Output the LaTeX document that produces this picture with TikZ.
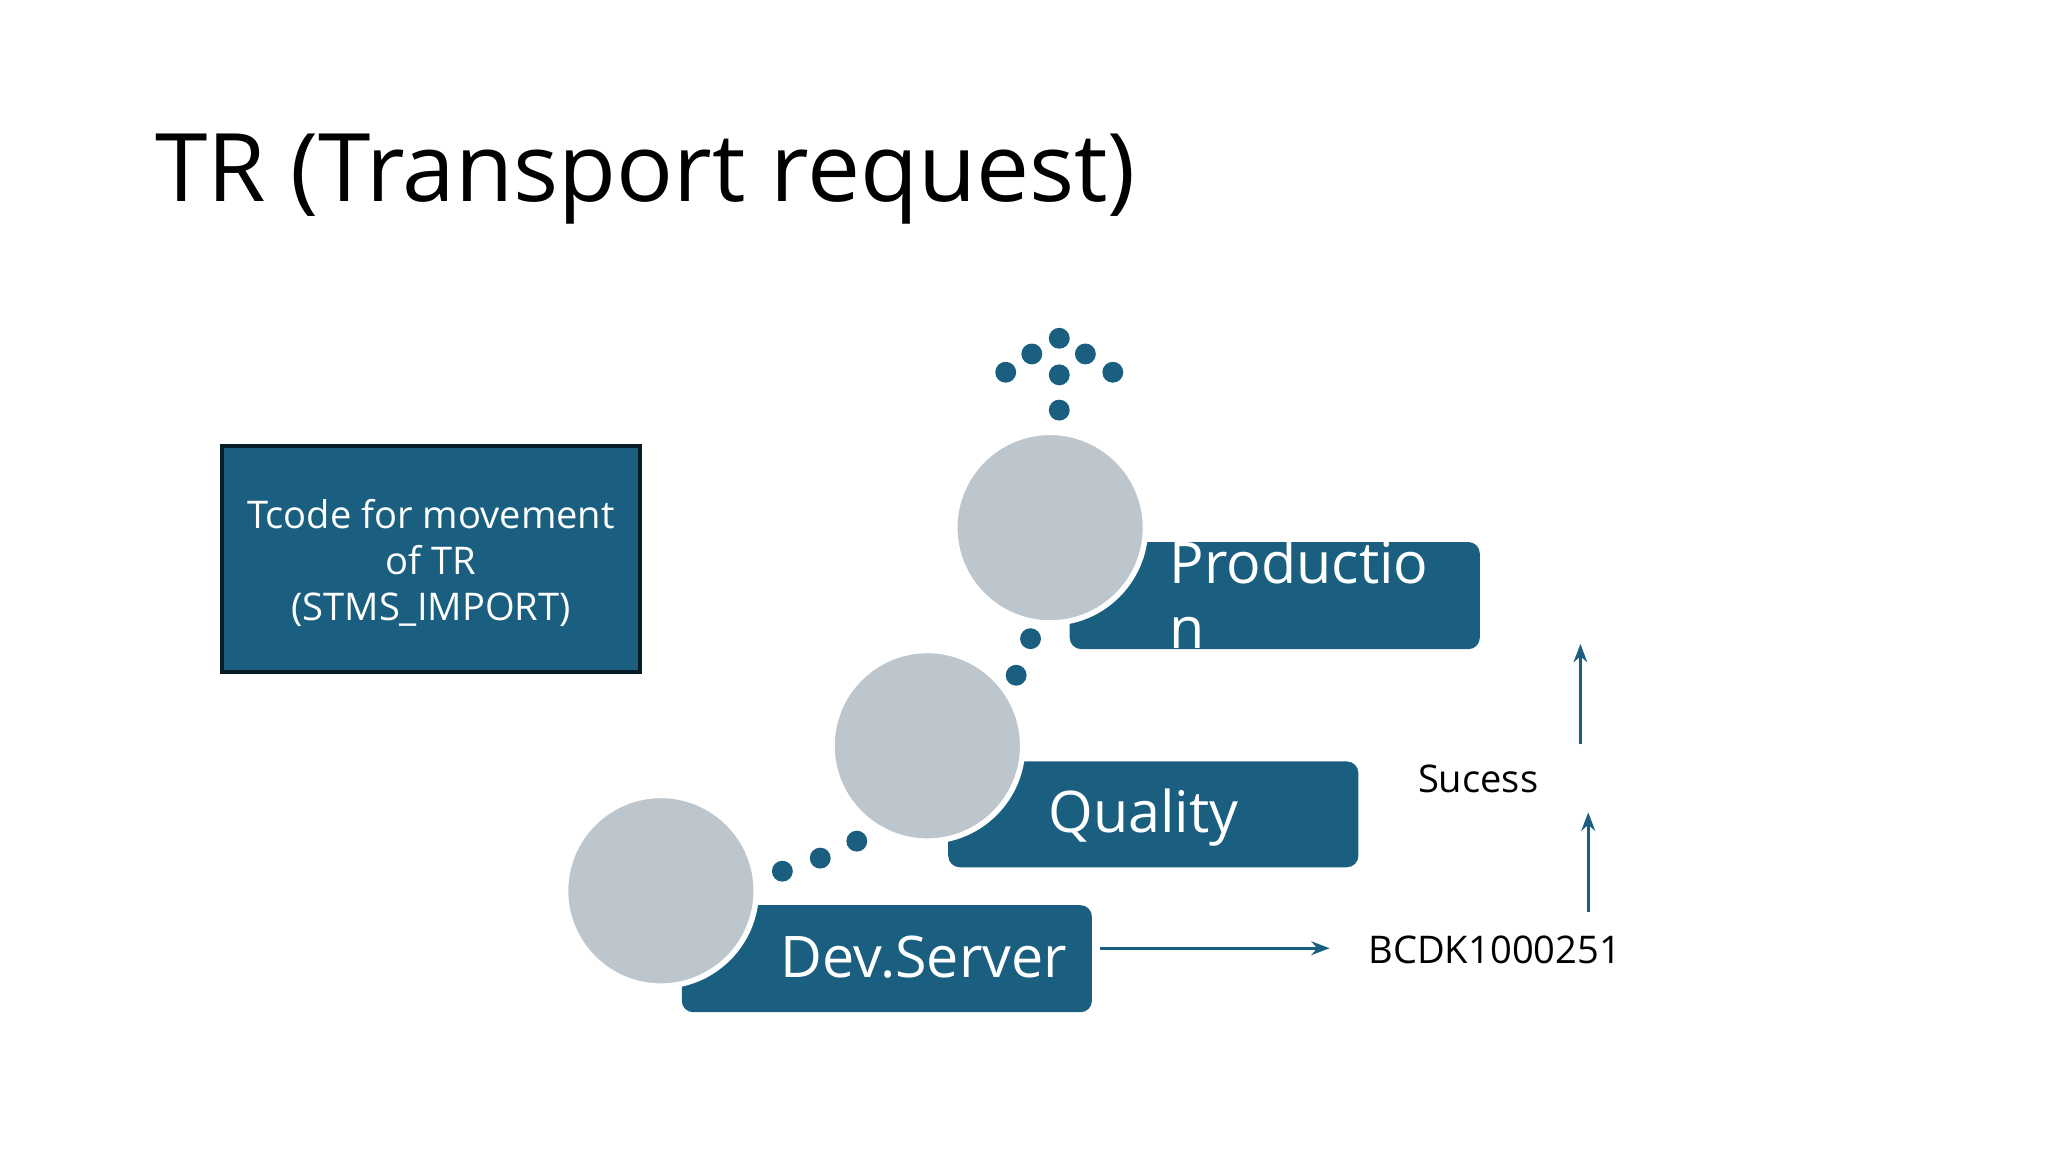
\documentclass[tikz,border=0pt]{standalone}
\usepackage{fontspec}
\setmainfont{Open Sans}
\usetikzlibrary{arrows.meta}
\definecolor{teal}{HTML}{1A5F80}
\definecolor{circ}{HTML}{BDC6CD}
\begin{document}
\begin{tikzpicture}[x=0.01cm,y=-0.01cm,
  bar/.style={fill=teal,rounded corners=2.5pt},
  ball/.style={circle,fill=circ,draw=white,line width=1.2pt,minimum size=146*0.01cm,inner sep=0},
  dot/.style={circle,fill=teal,minimum size=16*0.01cm,inner sep=0},
  lbl/.style={text=white,font=\fontsize{12.5}{14}\selectfont,anchor=west,inner sep=0},
  arr/.style={draw=teal,line width=0.6pt,-{Stealth[length=4pt,width=3pt]}}]
\useasboundingbox (0,0) rectangle (1568,882);
\node[anchor=west,inner sep=0,font=\fontsize{20.6}{24}\selectfont] (title) at (118,137) {TR (Transport request)};
\node[draw=black!70!teal,fill=teal,line width=0.8pt,minimum width=320*0.01cm,minimum height=173*0.01cm] (tc) at (330,428) {};
\node[text=white,align=center,font=\fontsize{8.3}{10}\selectfont] (tct) at (330,431) {Tcode for movement\\of TR\\(STMS\_IMPORT)};
\fill[bar] (522,693) rectangle (836,775);
\fill[bar] (726,583) rectangle (1040,664);
\fill[bar] (819,415) rectangle (1133,497);
\node[ball] (c1) at (506,682) {};
\node[ball] (c2) at (710,571) {};
\node[ball] (c3) at (804,404) {};
\node[lbl] (dev) at (597,733) {Dev.Server};
\node[lbl] (qa) at (802,626) {Quality};
\node[lbl,align=left,font=\fontsize{12.5}{14}\selectfont] (prod) at (895,455) {Productio\\n};
\foreach \p [count=\i] in {(599,667),(628,657),(656,644),(778,517),(789,489),(811,314),(811,287),(770,285),(790,271),(811,259),(831,271),(852,285)}
  \node[dot] (d\i) at \p {};
\coordinate (a1s) at (842,726);
\node[anchor=west,inner sep=0,font=\fontsize{8.3}{10}\selectfont] (bcdk) at (1047,727) {BCDK1000251};
\coordinate (a1e) at (1018,726);
\draw[arr] (a1s) -- (a1e);
\coordinate (a2s) at (1216,698); \coordinate (a2e) at (1216,622);
\draw[arr] (a2s) -- (a2e);
\node[anchor=west,inner sep=0,font=\fontsize{8.3}{10}\selectfont] (suc) at (1085,596) {Sucess};
\coordinate (a3s) at (1210,570); \coordinate (a3e) at (1210,493);
\draw[arr] (a3s) -- (a3e);
\end{tikzpicture}
\end{document}
